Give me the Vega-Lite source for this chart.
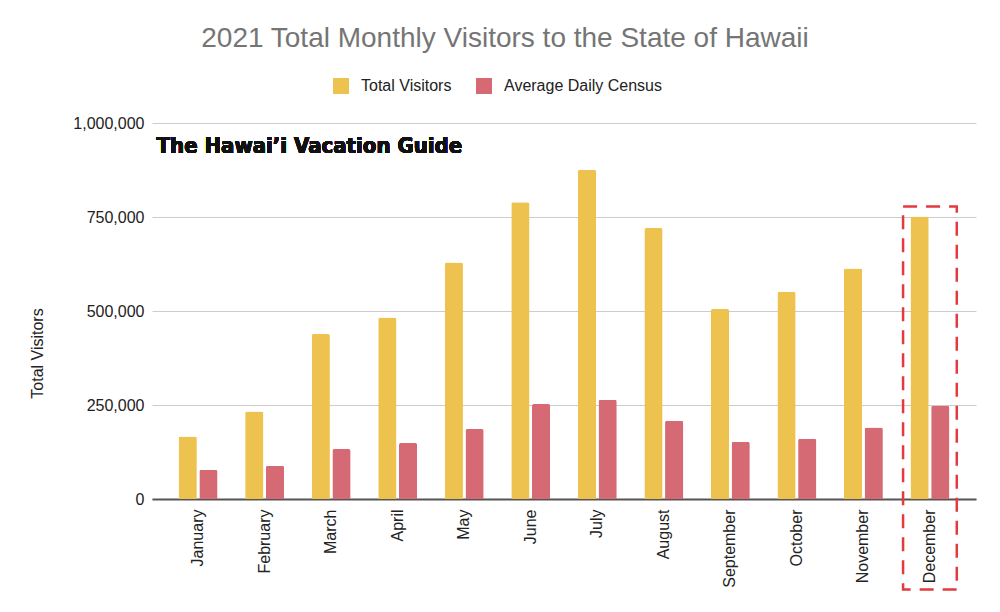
{
  "$schema": "https://vega.github.io/schema/vega-lite/v6.json",
  "width": 824,
  "height": 376,
  "autosize": {"type": "none"},
  "padding": {"left": 152, "top": 123, "right": 24, "bottom": 113},
  "background": "white",
  "title": {
    "text": "2021 Total Monthly Visitors to the State of Hawaii",
    "fontSize": 28,
    "font": "Liberation Sans",
    "fontWeight": "normal",
    "color": "#757575",
    "anchor": "middle",
    "frame": "group",
    "dx": -59,
    "baseline": "bottom",
    "offset": -3
  },
  "config": {
    "font": "Liberation Sans",
    "view": {"stroke": null}
  },
  "data": {
    "values": [
      {"month": "January", "series": "Total Visitors", "value": 166500},
      {"month": "January", "series": "Average Daily Census", "value": 78000},
      {"month": "February", "series": "Total Visitors", "value": 233000},
      {"month": "February", "series": "Average Daily Census", "value": 88600},
      {"month": "March", "series": "Total Visitors", "value": 438800},
      {"month": "March", "series": "Average Daily Census", "value": 133000},
      {"month": "April", "series": "Total Visitors", "value": 483000},
      {"month": "April", "series": "Average Daily Census", "value": 149000},
      {"month": "May", "series": "Total Visitors", "value": 629000},
      {"month": "May", "series": "Average Daily Census", "value": 186000},
      {"month": "June", "series": "Total Visitors", "value": 789000},
      {"month": "June", "series": "Average Daily Census", "value": 252600},
      {"month": "July", "series": "Total Visitors", "value": 875800},
      {"month": "July", "series": "Average Daily Census", "value": 264000},
      {"month": "August", "series": "Total Visitors", "value": 720700},
      {"month": "August", "series": "Average Daily Census", "value": 208000},
      {"month": "September", "series": "Total Visitors", "value": 505300},
      {"month": "September", "series": "Average Daily Census", "value": 152400},
      {"month": "October", "series": "Total Visitors", "value": 551300},
      {"month": "October", "series": "Average Daily Census", "value": 160000},
      {"month": "November", "series": "Total Visitors", "value": 613300},
      {"month": "November", "series": "Average Daily Census", "value": 190400},
      {"month": "December", "series": "Total Visitors", "value": 751000},
      {"month": "December", "series": "Average Daily Census", "value": 248000}
    ]
  },
  "encoding": {
    "x": {
      "field": "month",
      "type": "nominal",
      "sort": ["January", "February", "March", "April", "May", "June", "July", "August", "September", "October", "November", "December"],
      "scale": {"paddingInner": 0.415, "paddingOuter": 0.4},
      "axis": {
        "title": null,
        "labelAngle": -90,
        "labelFontSize": 16,
        "labelColor": "#222222",
        "labelPadding": 10,
        "ticks": false,
        "domainColor": "#555555",
        "domainWidth": 2,
        "grid": false
      }
    }
  },
  "layer": [
    {
      "mark": {"type": "bar", "cornerRadiusTopLeft": 2, "cornerRadiusTopRight": 2},
      "encoding": {
        "xOffset": {
          "field": "series",
          "type": "nominal",
          "sort": ["Total Visitors", "Average Daily Census"],
          "scale": {"paddingInner": 0.12}
        },
        "y": {
          "field": "value",
          "type": "quantitative",
          "scale": {"domain": [0, 1000000], "nice": false},
          "axis": {
            "title": "Total Visitors",
            "titleFontSize": 16,
            "titleFontWeight": "normal",
            "titleColor": "#222222",
            "titleX": -115,
            "titleY": 230,
            "titleBaseline": "middle",
            "values": [0, 250000, 500000, 750000, 1000000],
            "labelExpr": "format(datum.value, ',d')",
            "labelFontSize": 16,
            "labelColor": "#222222",
            "labelPadding": 8,
            "ticks": false,
            "domain": false,
            "grid": true,
            "gridColor": "#cccccc",
            "gridWidth": 1
          }
        },
        "color": {
          "field": "series",
          "type": "nominal",
          "scale": {"domain": ["Total Visitors", "Average Daily Census"], "range": ["#EDC24E", "#D56A74"]},
          "legend": {
            "title": null,
            "orient": "none",
            "direction": "horizontal",
            "legendX": 181,
            "legendY": -45,
            "padding": 0,
            "symbolType": "square",
            "symbolSize": 256,
            "symbolStrokeWidth": 0,
            "symbolOpacity": 1,
            "labelFontSize": 16,
            "labelColor": "#222222",
            "labelOffset": 12,
            "columnPadding": 24
          }
        }
      }
    },
    {
      "data": {"values": [{"month": "December", "top": 778000, "bottom": -241000}]},
      "mark": {
        "type": "rect",
        "fill": null,
        "stroke": "#E23A3E",
        "strokeWidth": 2.5,
        "strokeDash": [14, 9],
        "width": {"band": 1.38},
        "clip": false
      },
      "encoding": {
        "y": {
          "field": "top",
          "type": "quantitative",
          "axis": {
            "title": "Total Visitors",
            "titleFontSize": 16,
            "titleFontWeight": "normal",
            "titleColor": "#222222",
            "titleX": -115,
            "titleY": 230,
            "titleBaseline": "middle",
            "values": [0, 250000, 500000, 750000, 1000000],
            "labelExpr": "format(datum.value, ',d')",
            "labelFontSize": 16,
            "labelColor": "#222222",
            "labelPadding": 8,
            "ticks": false,
            "domain": false,
            "grid": true,
            "gridColor": "#cccccc",
            "gridWidth": 1
          }
        },
        "y2": {"field": "bottom"}
      }
    },
    {
      "mark": {
        "type": "text",
        "text": "The Hawai’i Vacation Guide",
        "font": "DejaVu Sans Condensed",
        "fontWeight": "bold",
        "fontSize": 22,
        "color": "#111111",
        "align": "left",
        "baseline": "alphabetic",
        "dx": -22
      },
      "encoding": {
        "x": {"datum": "January", "bandPosition": 0},
        "y": {
          "datum": 921000,
          "axis": {
            "title": "Total Visitors",
            "titleFontSize": 16,
            "titleFontWeight": "normal",
            "titleColor": "#222222",
            "titleX": -115,
            "titleY": 230,
            "titleBaseline": "middle",
            "values": [0, 250000, 500000, 750000, 1000000],
            "labelExpr": "format(datum.value, ',d')",
            "labelFontSize": 16,
            "labelColor": "#222222",
            "labelPadding": 8,
            "ticks": false,
            "domain": false,
            "grid": true,
            "gridColor": "#cccccc",
            "gridWidth": 1
          }
        }
      }
    }
  ]
}
